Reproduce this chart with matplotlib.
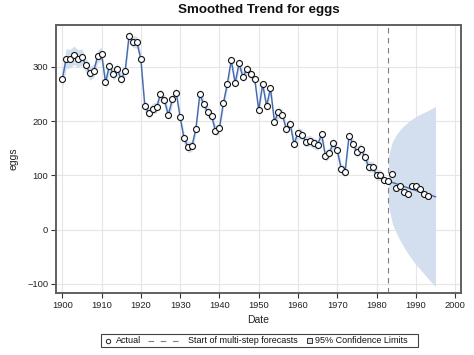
import matplotlib
matplotlib.use("Agg")
import matplotlib.pyplot as plt
from matplotlib.lines import Line2D
from matplotlib.patches import Rectangle

plt.rcParams['font.family'] = ['Liberation Sans', 'DejaVu Sans']

years = list(range(1900, 1994))
actual = [277, 315, 315, 321, 315, 318, 303, 288, 292, 319,
          324, 271, 302, 286, 295, 277, 292, 357, 346, 345,
          314, 228, 214, 223, 225, 250, 238, 211, 240, 252,
          207, 168, 152, 154, 185, 249, 231, 217, 210, 182,
          187, 233, 268, 312, 270, 306, 281, 296, 286, 277,
          220, 268, 228, 260, 199, 216, 212, 186, 195, 158,
          178, 175, 162, 164, 159, 156, 176, 135, 142, 159,
          146, 112, 107, 173, 158, 143, 149, 134, 116, 116,
          100, 101, 91, 89, 102, 77, 81, 70, 66, 80,
          80, 75, 66, 62]

# smoothed trend in the fitted period (1900-1982)
fit_years = list(range(1900, 1983))
fit_trend = actual[:83]
fit_half = [18, 18, 17, 17, 16, 15, 14, 13, 12, 12,
            12, 12, 11, 11, 11, 11, 11, 11, 11, 11,
            11, 11, 10, 10, 10, 10, 10, 10, 10, 10,
            10, 10, 10, 10, 10, 10, 10, 10, 10, 10,
            10, 10, 10, 10, 10, 10, 10, 10, 10, 10,
            10, 10, 10, 10, 10, 10, 10, 10, 10, 10,
            10, 10, 10, 10, 10, 10, 10, 10, 10, 10,
            10, 10, 10, 10, 10, 10, 10, 10, 10, 10,
            10, 10, 10]

# multi-step forecasts (1983-1995)
fc_years = list(range(1983, 1996))
fc_trend = [89.5, 87, 84.5, 82, 79.5, 77, 74.5, 72, 70, 67.5, 65, 63, 60.5]
fc_upper = [134.5, 162, 174.5, 184, 191.5, 198, 203.5, 208, 212, 215.5, 219, 223, 226.5]
fc_lower = [44.5, 12, -5.5, -20, -32.5, -44, -54.5, -64, -72, -80.5, -89, -97, -104.5]

forecast_start = 1983

band_color = '#D3DEEF'
line_color = '#4169AD'
W, H = 474, 355

fig = plt.figure(figsize=(W / 100, H / 100), dpi=100)
ax = fig.add_axes([56 / W, 1 - 293 / H, (461 - 56) / W, (293 - 25) / H])

fit_up = [t + h for t, h in zip(fit_trend, fit_half)]
fit_lo = [t - h for t, h in zip(fit_trend, fit_half)]
ax.fill_between(fit_years, fit_lo, fit_up, color=band_color, lw=0, zorder=1)
ax.fill_between(fc_years, fc_lower, fc_upper, color=band_color, lw=0, zorder=1)

ax.plot(fit_years + fc_years, fit_trend + fc_trend, color=line_color, lw=1.0, zorder=3)
ax.plot(years, actual, ls='none', marker='o', ms=4.3, mfc='white', mec='#111111', mew=0.8, zorder=4)
ax.axvline(forecast_start, color='#7F7F7F', lw=0.8, ls=(0, (5, 4)), zorder=2)

ax.set_xlim(1898.4, 2001.5)
ax.set_ylim(-116.6, 376.8)
ax.set_xticks(range(1900, 2001, 10))
ax.set_yticks([-100, 0, 100, 200, 300])
ax.grid(True, color='#E6E6E6', lw=0.8, zorder=0)
ax.set_axisbelow(True)
for s in ax.spines.values():
    s.set_color('#606060')
    s.set_linewidth(1.4)
ax.tick_params(labelsize=6.7, color='#333333', length=3.5, width=0.8, pad=2, labelcolor='#222222')
ax.set_xlabel('Date', fontsize=7.5, labelpad=4, color='#222222')
ax.set_ylabel('eggs', fontsize=7.5, labelpad=6, color='#222222')
fig.text((56 + 461) / 2 / W, 1 - 10 / H, 'Smoothed Trend for eggs', ha='center', va='center',
         fontsize=9.6, fontweight='bold', color='#111111')

# legend drawn in figure pixel coordinates
def fx(px):
    return px / W

def fy(py):
    return 1 - py / H

ly = 340.5
fig.patches.append(Rectangle((fx(101), fy(347)), fx(418.3) - fx(101), fy(334) - fy(347),
                             transform=fig.transFigure, facecolor='white', edgecolor='#444444', lw=0.8))
fig.lines.append(Line2D([fx(108.3)], [fy(ly)], transform=fig.transFigure, ls='none', marker='o',
                        ms=3.2, mfc='white', mec='#222222', mew=0.7))
fig.text(fx(115.5), fy(ly), 'Actual', fontsize=6.5, va='center', ha='left', color='#111111')
fig.lines.append(Line2D([fx(148), fx(178)], [fy(ly), fy(ly)], transform=fig.transFigure,
                        color='#7F7F7F', lw=0.8, ls=(0, (5, 6))))
fig.text(fx(188), fy(ly), 'Start of multi-step forecasts', fontsize=6.5, va='center', ha='left', color='#111111')
fig.patches.append(Rectangle((fx(307.2), fy(342.6)), fx(311.5) - fx(307.2), fy(338.3) - fy(342.6),
                             transform=fig.transFigure, facecolor=band_color, edgecolor='#333333', lw=0.7))
fig.text(fx(315), fy(ly), '95% Confidence Limits', fontsize=6.5, va='center', ha='left', color='#111111')

fig.savefig('out.png', dpi=100)
